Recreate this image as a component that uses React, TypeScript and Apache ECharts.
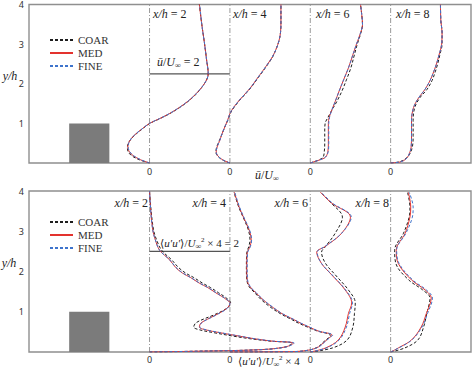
import { useEffect, useRef } from 'react';
import * as echarts from 'echarts';

// ---------- data ----------
const STATIONS = [2, 4, 6, 8];
const X_MIN = -1;
const X_MAX = 10;
const Y_MIN = 0;
const Y_MAX = 4;
const BLOCK_X = [0, 1];
const BLOCK_H = 1;
const SCALE_BAR_TOP = [2, 4, 2.25];
const SCALE_BAR_BOT = [2, 4, 2.5];
const SERIES_NAMES = ['COAR', 'MED', 'FINE'];

// top panel: mean streamwise velocity u/U (offset by station)
const U2_Y = [0, 0.08, 0.18, 0.28, 0.4, 0.55, 0.7, 0.85, 1.0, 1.12, 1.25, 1.4, 1.58, 1.75, 1.95, 2.12, 2.25, 2.6, 3.0, 3.5, 4.0];
const U2_COAR = [0, -0.25, -0.44, -0.53, -0.55, -0.5, -0.37, -0.19, 0.01, 0.26, 0.51, 0.75, 0.99, 1.17, 1.33, 1.43, 1.46, 1.42, 1.37, 1.3, 1.24];
const U2_MED = [0, -0.22, -0.4, -0.5, -0.54, -0.5, -0.38, -0.2, 0, 0.25, 0.5, 0.74, 0.98, 1.16, 1.33, 1.43, 1.46, 1.42, 1.37, 1.3, 1.24];
const U2_FINE = [0, -0.21, -0.39, -0.49, -0.53, -0.5, -0.38, -0.2, 0, 0.25, 0.5, 0.74, 0.98, 1.16, 1.33, 1.43, 1.46, 1.42, 1.37, 1.3, 1.25];

const U4_Y = [0, 0.08, 0.18, 0.28, 0.4, 0.55, 0.75, 0.95, 1.1, 1.25, 1.4, 1.58, 1.78, 1.95, 2.15, 2.3, 2.5, 2.65, 2.85, 3.08, 3.3, 3.58, 4.0];
const U4_COAR = [0, -0.19, -0.31, -0.35, -0.33, -0.27, -0.19, -0.11, -0.04, 0.01, 0.1, 0.24, 0.42, 0.56, 0.7, 0.81, 0.95, 1.05, 1.14, 1.22, 1.26, 1.27, 1.27];
const U4_MED = [0, -0.18, -0.3, -0.34, -0.32, -0.26, -0.19, -0.11, -0.05, 0, 0.09, 0.23, 0.41, 0.55, 0.69, 0.8, 0.94, 1.04, 1.14, 1.22, 1.26, 1.27, 1.27];
const U4_FINE = [0, -0.18, -0.3, -0.34, -0.32, -0.26, -0.19, -0.11, -0.05, 0, 0.09, 0.23, 0.41, 0.55, 0.69, 0.8, 0.94, 1.04, 1.14, 1.22, 1.26, 1.27, 1.27];

const U6_Y = [0, 0.04, 0.08, 0.15, 0.3, 0.5, 0.8, 1.0, 1.15, 1.32, 1.55, 1.82, 2.1, 2.4, 2.7, 3.0, 3.25, 3.5, 3.75, 4.0];
const U6_COAR = [0, 0.12, 0.22, 0.32, 0.35, 0.36, 0.36, 0.37, 0.44, 0.53, 0.66, 0.79, 0.9, 1.01, 1.09, 1.17, 1.25, 1.3, 1.28, 1.25];
const U6_MED = [0, 0.12, 0.24, 0.38, 0.44, 0.45, 0.45, 0.45, 0.47, 0.53, 0.62, 0.72, 0.83, 0.95, 1.05, 1.15, 1.24, 1.3, 1.28, 1.25];
const U6_FINE = [0, 0.12, 0.24, 0.38, 0.45, 0.46, 0.46, 0.46, 0.48, 0.53, 0.62, 0.72, 0.83, 0.95, 1.05, 1.15, 1.24, 1.3, 1.28, 1.25];

const U8_Y = [0, 0.03, 0.1, 0.2, 0.4, 0.7, 1.07, 1.4, 1.65, 1.85, 2.08, 2.3, 2.5, 2.75, 3.0, 3.3, 3.58, 4.0];
const U8_COAR = [0, 0.22, 0.36, 0.46, 0.54, 0.56, 0.56, 0.6, 0.73, 0.9, 1.03, 1.11, 1.17, 1.23, 1.28, 1.28, 1.25, 1.24];
const U8_MED = [0, 0.25, 0.38, 0.45, 0.51, 0.52, 0.52, 0.57, 0.7, 0.85, 0.98, 1.07, 1.14, 1.21, 1.27, 1.28, 1.25, 1.24];
const U8_FINE = [0, 0.25, 0.38, 0.45, 0.51, 0.52, 0.52, 0.57, 0.7, 0.85, 0.98, 1.07, 1.14, 1.21, 1.27, 1.28, 1.25, 1.24];

// bottom panel: <u'u'>/U^2 x 4 (offset by station)
const R2_Y = [0, 0.02, 0.06, 0.13, 0.22, 0.27, 0.33, 0.4, 0.48, 0.55, 0.62, 0.72, 0.82, 0.92, 1.09, 1.22, 1.29, 1.38, 1.47, 1.6, 1.71, 1.85, 1.96, 2.1, 2.29, 2.53, 2.8, 3.03, 3.5, 4.0];
const R2_COAR = [0, 1.2, 2.8, 3.4, 3.55, 3.0, 2.5, 2.05, 1.6, 1.25, 1.1, 1.15, 1.35, 1.6, 1.93, 2.02, 1.97, 1.86, 1.72, 1.52, 1.32, 1.1, 0.9, 0.72, 0.55, 0.3, 0.17, 0.1, 0.04, 0];
const R2_MED = [0, 1.2, 2.8, 3.4, 3.58, 3.05, 2.6, 2.2, 1.75, 1.4, 1.24, 1.28, 1.45, 1.65, 1.93, 2.0, 1.93, 1.8, 1.65, 1.45, 1.24, 1.02, 0.82, 0.65, 0.5, 0.25, 0.14, 0.08, 0.03, 0];
const R2_FINE = [0, 1.2, 2.8, 3.42, 3.6, 3.08, 2.62, 2.22, 1.77, 1.42, 1.25, 1.29, 1.46, 1.66, 1.94, 2.0, 1.94, 1.81, 1.66, 1.46, 1.25, 1.03, 0.83, 0.66, 0.5, 0.25, 0.14, 0.08, 0.03, 0];

const R4_Y = [0, 0.01, 0.05, 0.13, 0.25, 0.35, 0.42, 0.52, 0.62, 0.72, 0.8, 0.95, 1.12, 1.3, 1.47, 1.62, 1.79, 2.1, 2.46, 2.62, 2.78, 3.03, 3.3, 3.6, 3.97];
const R4_COAR = [0, 1.6, 1.98, 2.2, 2.33, 2.45, 2.5, 2.18, 1.93, 1.7, 1.55, 1.26, 1.0, 0.78, 0.62, 0.48, 0.42, 0.41, 0.42, 0.47, 0.5, 0.46, 0.35, 0.22, 0.1];
const R4_MED = [0, 1.6, 1.98, 2.21, 2.35, 2.47, 2.54, 2.2, 1.97, 1.75, 1.6, 1.3, 1.05, 0.82, 0.65, 0.5, 0.43, 0.42, 0.43, 0.5, 0.53, 0.48, 0.36, 0.23, 0.11];
const R4_FINE = [0, 1.6, 1.98, 2.22, 2.36, 2.48, 2.56, 2.21, 1.98, 1.76, 1.61, 1.31, 1.06, 0.83, 0.66, 0.51, 0.44, 0.43, 0.44, 0.51, 0.54, 0.49, 0.37, 0.24, 0.12];

const R6_Y = [0, 0.1, 0.3, 0.62, 0.96, 1.22, 1.54, 1.92, 2.2, 2.48, 2.62, 2.95, 3.35, 3.7, 3.97];
const R6_COAR = [0, 0.55, 0.92, 1.06, 1.1, 1.12, 0.95, 0.62, 0.38, 0.28, 0.38, 0.62, 0.8, 0.52, 0.25];
const R6_MED = [0, 0.38, 0.7, 0.87, 0.95, 1.03, 0.87, 0.53, 0.28, 0.16, 0.37, 0.78, 1.0, 0.53, 0.25];
const R6_FINE = [0, 0.4, 0.72, 0.9, 0.98, 1.05, 0.88, 0.54, 0.28, 0.17, 0.36, 0.78, 1.02, 0.55, 0.27];

const R8_Y = [0, 0.1, 0.3, 0.62, 0.96, 1.34, 1.54, 1.79, 2.2, 2.53, 2.95, 3.35, 3.6, 3.97];
const R8_COAR = [0, 0.35, 0.68, 0.82, 0.9, 0.98, 0.8, 0.45, 0.13, 0.1, 0.32, 0.46, 0.48, 0.42];
const R8_MED = [0, 0.19, 0.52, 0.76, 0.89, 1.01, 0.86, 0.52, 0.19, 0.14, 0.36, 0.48, 0.5, 0.44];
const R8_FINE = [0, 0.2, 0.53, 0.78, 0.92, 1.04, 0.89, 0.55, 0.21, 0.15, 0.38, 0.54, 0.56, 0.46];

const U_PROFILES = [
  { station: 2, y: U2_Y, COAR: U2_COAR, MED: U2_MED, FINE: U2_FINE },
  { station: 4, y: U4_Y, COAR: U4_COAR, MED: U4_MED, FINE: U4_FINE },
  { station: 6, y: U6_Y, COAR: U6_COAR, MED: U6_MED, FINE: U6_FINE },
  { station: 8, y: U8_Y, COAR: U8_COAR, MED: U8_MED, FINE: U8_FINE },
];
const R_PROFILES = [
  { station: 2, y: R2_Y, COAR: R2_COAR, MED: R2_MED, FINE: R2_FINE },
  { station: 4, y: R4_Y, COAR: R4_COAR, MED: R4_MED, FINE: R4_FINE },
  { station: 6, y: R6_Y, COAR: R6_COAR, MED: R6_MED, FINE: R6_FINE },
  { station: 8, y: R8_Y, COAR: R8_COAR, MED: R8_MED, FINE: R8_FINE },
];

// ---------- styles ----------
const LINE_STYLE: Record<string, any> = {
  COAR: { color: '#1e1e1e', type: [3, 2] },
  MED: { color: '#e3322e', type: 'solid' },
  FINE: { color: '#3e74cc', type: [3, 2] },
};
const SERIF = '"Liberation Serif", "DejaVu Serif", serif';
const SANS = '"Noto Sans", "DejaVu Sans", sans-serif';

function profileSeries(profiles: any[], idx: number) {
  const out: any[] = [];
  for (const p of profiles) {
    for (const name of SERIES_NAMES) {
      const st = LINE_STYLE[name];
      out.push({
        type: 'line',
        name,
        xAxisIndex: idx,
        yAxisIndex: idx,
        data: p.y.map((yy: number, i: number) => [p.station + p[name][i], yy]),
        symbol: 'none',
        showSymbol: false,
        smooth: 0.35,
        silent: true,
        z: 3,
        lineStyle: { color: st.color, width: 1, type: st.type },
        itemStyle: { color: st.color },
      });
    }
  }
  return out;
}

function guideSeries(idx: number, bar: number[]) {
  const out: any[] = [];
  out.push({
    type: 'line',
    name: 'block' + idx,
    xAxisIndex: idx,
    yAxisIndex: idx,
    data: [],
    silent: true,
    z: 1,
    markArea: {
      silent: true,
      itemStyle: { color: '#7b7b7b' },
      data: [[{ coord: [BLOCK_X[0], 0] }, { coord: [BLOCK_X[1], BLOCK_H] }]],
    },
  });
  for (const s of STATIONS) {
    out.push({
      type: 'line',
      name: 'station' + idx + '_' + s,
      xAxisIndex: idx,
      yAxisIndex: idx,
      data: [[s, Y_MIN], [s, Y_MAX]],
      symbol: 'none',
      showSymbol: false,
      silent: true,
      z: 1,
      lineStyle: { color: '#9a9a9a', width: 1, type: [5, 2, 1, 2] },
    });
  }
  out.push({
    type: 'line',
    name: 'bar' + idx,
    xAxisIndex: idx,
    yAxisIndex: idx,
    data: [[bar[0], bar[2]], [bar[1], bar[2]]],
    symbol: 'none',
    showSymbol: false,
    silent: true,
    z: 2,
    lineStyle: { color: '#555', width: 1.3, type: 'solid' },
  });
  return out;
}

function axes(idx: number) {
  return {
    x: {
      type: 'value',
      gridIndex: idx,
      min: X_MIN,
      max: X_MAX,
      interval: 1,
      axisLine: { show: false, onZero: false },
      axisTick: { show: false },
      splitLine: { show: false },
      axisLabel: {
        margin: idx === 0 ? 4 : 3,
        fontSize: 9,
        fontFamily: SANS,
        color: '#333',
        formatter: (v: number) => (STATIONS.includes(v) ? '0' : ''),
      },
    },
    y: {
      type: 'value',
      gridIndex: idx,
      min: Y_MIN,
      max: Y_MAX,
      interval: 1,
      axisLine: { show: false, onZero: false },
      axisTick: { show: false },
      splitLine: { show: false },
      axisLabel: {
        margin: 5,
        fontSize: 9,
        fontFamily: SANS,
        color: '#333',
        formatter: (v: number) => (v === 0 ? '' : String(v)),
      },
    },
  };
}

const RICH = {
  n: { fontFamily: SERIF, fontSize: 12, color: '#222', lineHeight: 14 },
  i: { fontFamily: SERIF, fontSize: 12, fontStyle: 'italic', color: '#222', lineHeight: 14 },
  sn: { fontFamily: SERIF, fontSize: 11, color: '#222', lineHeight: 14 },
  si: { fontFamily: SERIF, fontSize: 11, fontStyle: 'italic', color: '#222', lineHeight: 14 },
  sub: { fontFamily: SERIF, fontSize: 8, fontStyle: 'italic', color: '#222', lineHeight: 8, verticalAlign: 'bottom' },
  sup: { fontFamily: SERIF, fontSize: 7, color: '#222', lineHeight: 8, verticalAlign: 'top' },
};

function txt(text: string, x: number, y: number, align: string = 'left') {
  return {
    type: 'text',
    x,
    y,
    silent: true,
    z: 10,
    style: {
      text,
      rich: RICH,
      fontFamily: SERIF,
      fontSize: 12,
      fill: '#222',
      align,
      verticalAlign: 'middle',
    },
  };
}

export default function App() {
  const ref = useRef<HTMLDivElement>(null);
  useEffect(() => {
    if (!ref.current) return;
    const chart = echarts.init(ref.current, undefined, { renderer: 'svg' });
    const a0 = axes(0);
    const a1 = axes(1);
    const legendBase = {
      data: SERIES_NAMES,
      orient: 'vertical',
      left: 44,
      itemWidth: 23,
      itemHeight: 8,
      itemGap: 1,
      selectedMode: false,
      itemStyle: { opacity: 0, color: 'transparent', borderWidth: 0, borderColor: 'transparent' },
      textStyle: { fontFamily: SERIF, fontSize: 11, color: '#333', lineHeight: 12 },
    };
    const topLabels = [153, 233, 316, 396];
    const botLabels = [148, 226, 308, 389];
    chart.setOption({
      animation: false,
      backgroundColor: '#fff',
      grid: [
        { left: 29, top: 3, width: 443, height: 160, show: true, borderColor: '#8f8f8f', borderWidth: 1.4 },
        { left: 29, top: 191, width: 443, height: 161, show: true, borderColor: '#8f8f8f', borderWidth: 1.4 },
      ],
      xAxis: [a0.x, a1.x],
      yAxis: [a0.y, a1.y],
      legend: [
        { ...legendBase, top: 29 },
        { ...legendBase, top: 211 },
      ],
      series: [
        ...guideSeries(0, SCALE_BAR_TOP),
        ...guideSeries(1, SCALE_BAR_BOT),
        ...profileSeries(U_PROFILES, 0),
        ...profileSeries(R_PROFILES, 1),
      ],
      graphic: [
        txt('{i|y/h}', 10, 76, 'center'),
        txt('{i|y/h}', 9, 263, 'center'),
        ...STATIONS.map((s, k) => txt(`{i|x/h}{n| = ${s}}`, topLabels[k], 14, 'left')),
        ...STATIONS.map((s, k) => txt(`{i|x/h}{n| = ${s}}`, botLabels[k], 203, 'right')),
        txt('{i|ū}{n|/}{i|U}{sub|∞}{n| = 2}', 157, 62, 'left'),
        txt('{i|ū}{n|/}{i|U}{sub|∞}', 255, 175, 'left'),
        txt('{sn|⟨}{si|u′u′}{sn|⟩/}{si|U}{sub|∞}{sup|2}{sn| × 4 = 2}', 160, 243, 'left'),
        txt('{sn|⟨}{si|u′u′}{sn|⟩/}{si|U}{sub|∞}{sup|2}{sn| × 4}', 238, 361, 'left'),
      ],
    });
    return () => chart.dispose();
  }, []);
  return (
    <div
      ref={ref}
      style={{ position: 'fixed', left: 0, top: 0, width: 474, height: 370, background: '#fff' }}
    />
  );
}
